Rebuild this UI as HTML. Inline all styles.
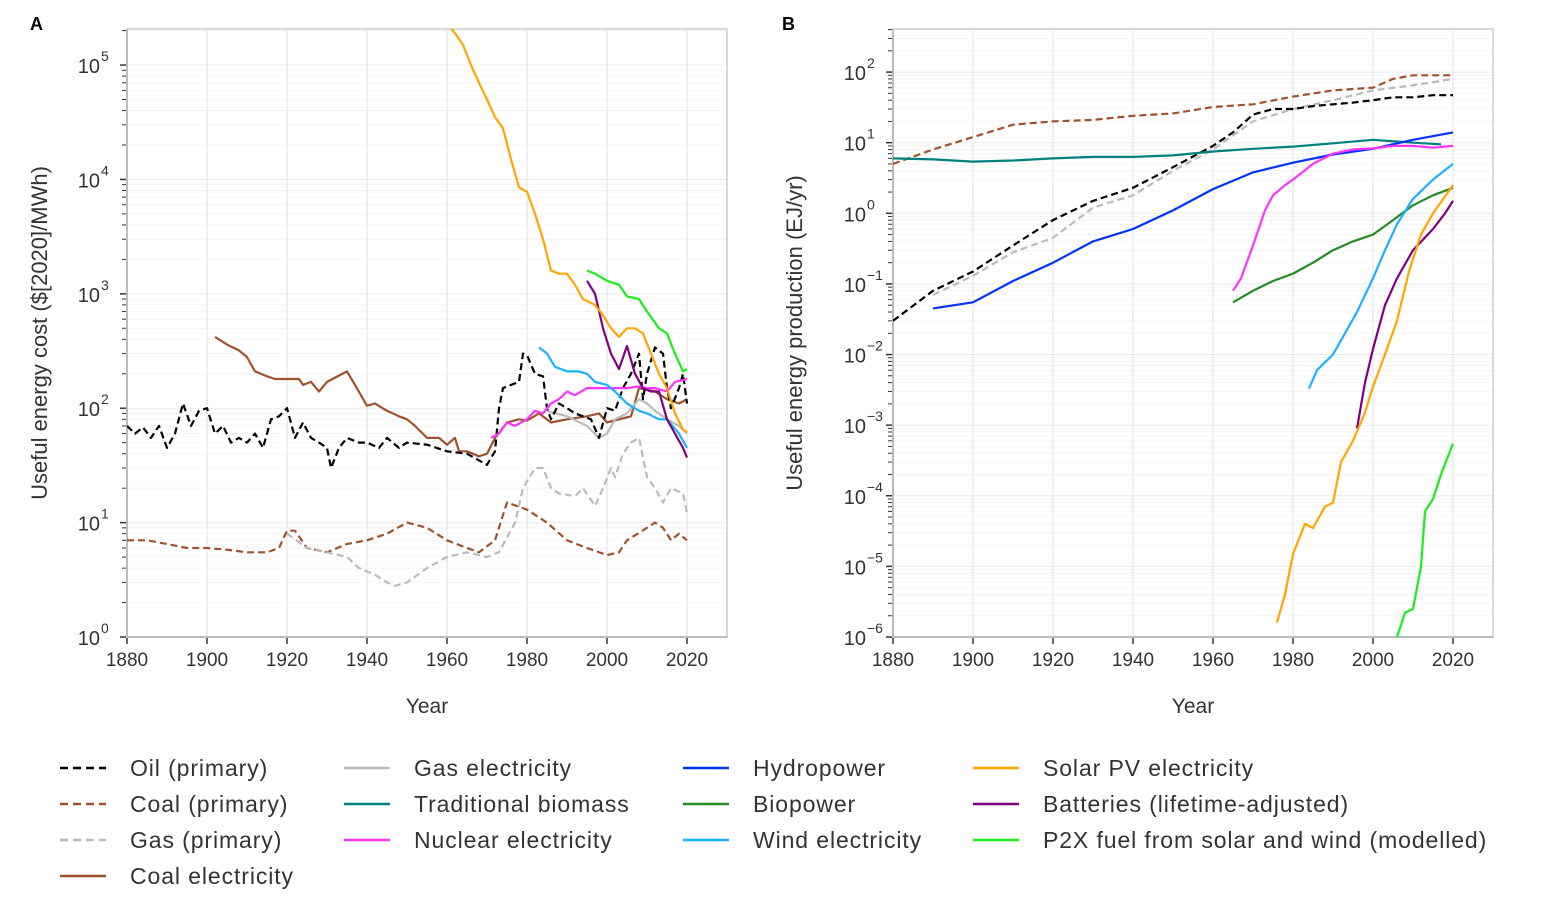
<!DOCTYPE html>
<html><head><meta charset="utf-8"><style>
body{margin:0;background:#fff;}
svg{display:block;font-family:"Liberation Sans",Arial,sans-serif;}
</style></head><body>
<svg id="chart" width="1542" height="904" viewBox="0 0 1542 904"></svg>
<script>
// ---- Panel A data: useful energy cost ($[2020]/MWh) ----
const aOilYears=[1880,1882,1884,1886,1888,1890,1892,1894,1896,1898,1900,1902,1904,1906,1908,1910,1912,1914,1916,1918,1920,1922,1924,1926,1928,1930,1931,1933,1935,1938,1940,1943,1945,1948,1950,1955,1960,1965,1968,1970,1972,1973,1974,1976,1978,1979,1980,1982,1984,1985,1986,1988,1990,1992,1994,1996,1998,2000,2002,2004,2006,2008,2009,2010,2012,2014,2015,2016,2018,2019,2020];
const aOilVals=[70,60,68,55,70,45,60,110,70,95,100,60,70,50,55,50,60,45,80,85,100,55,75,55,50,45,30,45,55,50,50,45,55,45,50,48,42,40,35,32,42,100,150,160,170,300,290,200,190,100,80,110,100,90,85,80,55,100,95,150,200,300,120,200,340,300,150,100,150,200,110];
const aCoalYears=[1880,1885,1890,1895,1900,1905,1910,1915,1918,1920,1922,1925,1930,1935,1940,1945,1950,1955,1960,1965,1968,1972,1975,1980,1985,1990,1995,2000,2003,2005,2010,2012,2014,2016,2018,2020];
const aCoalVals=[7,7,6.5,6,6,5.8,5.5,5.5,6,8.5,8.5,6,5.5,6.5,7,8,10,9,7,6,5.5,7,15,13,10,7,6,5.2,5.5,7,9,10,9,7,8,7];
const aGasYears=[1920,1925,1930,1935,1938,1942,1945,1947,1950,1955,1960,1965,1970,1973,1977,1979,1982,1984,1986,1988,1992,1994,1997,1999,2001,2002,2004,2006,2008,2010,2012,2014,2016,2019,2020];
const aGasVals=[8,6,5.5,5,4,3.5,3,2.8,3,4,5,5.5,5,5.5,10,20,30,30,20,18,17,20,14,20,30,25,40,50,55,25,20,15,20,18,12];
const aCoalElYears=[1902,1905,1908,1910,1912,1915,1917,1920,1923,1924,1926,1928,1930,1935,1937,1940,1942,1945,1948,1950,1952,1955,1958,1960,1962,1963,1965,1968,1970,1972,1975,1978,1980,1983,1986,1990,1995,1998,2000,2003,2006,2008,2012,2015,2018,2020];
const aCoalElVals=[420,360,320,280,210,190,180,180,180,160,170,140,170,210,160,105,110,95,85,80,70,55,55,48,55,42,42,38,40,55,75,80,78,90,75,80,85,90,75,80,85,150,140,120,110,120];
const aGasElYears=[1985,1990,1995,1998,2000,2002,2005,2008,2010,2012,2015,2018,2020];
const aGasElVals=[95,85,70,55,60,80,90,120,110,95,80,70,60];
const aNucYears=[1971,1973,1975,1977,1980,1982,1984,1986,1988,1990,1992,1995,2000,2005,2008,2010,2012,2015,2017,2020];
const aNucVals=[55,60,75,70,80,95,90,110,120,140,130,150,150,150,155,150,150,140,170,180];
const aWindYears=[1983,1985,1987,1990,1993,1995,1997,2000,2002,2005,2008,2010,2013,2015,2018,2020];
const aWindVals=[340,300,230,210,210,200,170,160,140,110,95,90,80,80,60,45];
const aSolarYears=[1961,1962,1964,1966,1968,1970,1972,1974,1976,1978,1980,1982,1984,1986,1988,1990,1992,1994,1997,1999,2001,2003,2005,2007,2009,2011,2013,2015,2017,2019,2020];
const aSolarVals=[210000,190000,150000,100000,70000,50000,35000,28000,15000,8500,7800,5000,3000,1600,1500,1500,1200,900,800,650,500,420,500,500,450,300,200,150,90,65,62];
const aBatYears=[1995,1997,1999,2001,2003,2005,2007,2009,2011,2013,2015,2017,2019,2020];
const aBatVals=[1300,1000,500,300,220,350,200,150,140,140,80,60,45,37];
const aP2xYears=[1995,1997,2000,2003,2005,2008,2010,2013,2015,2017,2019,2020];
const aP2xVals=[1600,1500,1300,1200,950,900,700,500,450,300,210,220];
// ---- Panel B data: useful energy production (EJ/yr) ----
const bOilYears=[1880,1890,1900,1910,1920,1930,1940,1950,1960,1965,1970,1975,1980,1985,1990,1995,2000,2005,2010,2015,2020];
const bOilVals=[0.03,0.08,0.15,0.35,0.8,1.5,2.3,4.5,9,14,25,30,30,33,35,37,40,44,44,47,47];
const bGasYears=[1890,1900,1910,1920,1930,1940,1950,1960,1970,1980,1990,2000,2010,2020];
const bGasVals=[0.07,0.13,0.28,0.45,1.2,1.8,4,8,20,30,40,55,65,80];
const bCoalYears=[1880,1890,1900,1910,1920,1930,1940,1950,1960,1970,1980,1990,2000,2005,2010,2015,2020];
const bCoalVals=[5,8,12,18,20,21,24,26,32,35,45,55,60,80,90,90,90];
const bBioYears=[1880,1890,1900,1910,1920,1930,1940,1950,1960,1970,1980,1990,2000,2010,2017];
const bBioVals=[6,5.8,5.4,5.6,6,6.3,6.3,6.6,7.5,8.2,8.8,9.8,11,10,9.5];
const bHydroYears=[1890,1900,1910,1920,1930,1940,1950,1960,1970,1980,1990,2000,2010,2020];
const bHydroVals=[0.045,0.055,0.11,0.2,0.4,0.6,1.1,2.2,3.8,5.2,6.8,8.2,11,14];
const bNucYears=[1965,1967,1970,1973,1975,1978,1980,1985,1990,1995,2000,2005,2010,2015,2020];
const bNucVals=[0.08,0.12,0.35,1.1,1.8,2.5,3,5,7,8,8.3,9,9,8.5,9];
const bBiopYears=[1965,1970,1975,1980,1985,1990,1995,2000,2005,2010,2015,2020];
const bBiopVals=[0.055,0.08,0.11,0.14,0.2,0.3,0.4,0.5,0.8,1.3,1.8,2.3];
const bWindYears=[1984,1986,1990,1993,1996,2000,2003,2006,2010,2015,2020];
const bWindVals=[0.0033,0.006,0.01,0.02,0.04,0.12,0.3,0.7,1.6,3,5];
const bBatYears=[1996,1998,2000,2003,2006,2010,2015,2018,2020];
const bBatVals=[0.0009,0.004,0.012,0.05,0.12,0.3,0.6,1,1.5];
const bSolarYears=[1976,1978,1980,1983,1985,1988,1990,1992,1995,1998,2000,2003,2006,2009,2012,2015,2020];
const bSolarVals=[1.6e-6,4e-6,1.5e-5,4e-5,3.5e-5,7e-5,8e-5,3e-4,6e-4,1.5e-3,3.5e-3,1e-2,3e-2,0.15,0.5,1,2.5];
const bP2xYears=[2006,2008,2010,2012,2013,2015,2017,2020];
const bP2xVals=[1e-6,2.2e-6,2.5e-6,1e-5,6e-5,9e-5,2e-4,5.5e-4];
const xTicks=[1880,1900,1920,1940,1960,1980,2000,2020];

const NS="http://www.w3.org/2000/svg";
const svg=document.getElementById('chart');
function el(tag,attrs,parent){const e=document.createElementNS(NS,tag);for(const k in attrs)e.setAttribute(k,attrs[k]);(parent||svg).appendChild(e);return e;}

function panel(cfg){
  const {x0,x1,y0,y1,lmin,lmax,decMin,decMax,name}=cfg;
  const g=el('g',{});
  
  
  const sx=yr=>x0+(yr-1880)/(2030-1880)*(x1-x0);
  const sy=v=>y1-(Math.log10(v)-lmin)/(lmax-lmin)*(y1-y0);
  for(let d=decMin;d<=decMax;d++){for(let m=2;m<=9;m++){const v=m*Math.pow(10,d);const y=sy(v);if(y<y0||y>y1)continue;
    el('line',{x1:x0,x2:x1,y1:y,y2:y,stroke:'#f4f4f4','stroke-width':1},g);
    el('line',{x1:x0-5,x2:x0,y1:y,y2:y,stroke:'#333','stroke-width':1},g);}}
  for(let d=decMin;d<=decMax;d++){const y=sy(Math.pow(10,d));if(y<y0-1||y>y1+1)continue;
    el('line',{x1:x0,x2:x1,y1:y,y2:y,stroke:'#ebebeb','stroke-width':1},g);
    el('line',{x1:x0-7,x2:x0,y1:y,y2:y,stroke:'#333','stroke-width':1.5},g);
    const t=el('text',{x:x0-27,y:y+8,'text-anchor':'end','font-size':20,fill:'#333'},g);
    
    
    t.textContent='10';
    const s=el('text',{x:x0-26,y:y-4,'text-anchor':'start','font-size':14,fill:'#333'},g);
    
    
    s.textContent=String(d).replace('-','\u2212');
  }
  xTicks.forEach(yr=>{const x=sx(yr);
    el('line',{x1:x,x2:x,y1:y0,y2:y1,stroke:'#ebebeb','stroke-width':1.5},g);
    el('line',{x1:x,x2:x,y1:y1,y2:y1+7,stroke:'#333','stroke-width':1.5},g);
    const t=el('text',{x:x,y:y1+29,'text-anchor':'middle','font-size':19,fill:'#333'},g);
    
    
    t.textContent=yr;});
  el('rect',{x:x0,y:y0,width:x1-x0,height:y1-y0,fill:'none',stroke:'#d9d9d9','stroke-width':2},g);
  el('line',{x1:x0,x2:x0,y1:y0,y2:y1,stroke:'#bbb','stroke-width':2},g);
  el('line',{x1:x0,x2:x1,y1:y1,y2:y1,stroke:'#bbb','stroke-width':2},g);
  const cp=el('clipPath',{id:'clip'+name},g);el('rect',{x:x0,y:y0,width:x1-x0,height:y1-y0},cp);
  const lines=el('g',{'clip-path':'url(#clip'+name+')'},g);
  cfg.series.forEach(s=>{
    const d=s.years.map((yr,i)=>(i?'L':'M')+sx(yr).toFixed(1)+','+sy(s.vals[i]).toFixed(1)).join('');
    const p=el('path',{d:d,fill:'none',stroke:s.c,'stroke-width':2.2,'stroke-linejoin':'round','stroke-dasharray':s.dash?'7,4':'none'},lines);
    
    
  });
  const xl=el('text',{x:(x0+x1)/2,y:y1+76,'text-anchor':'middle','font-size':21,fill:'#333'},g);
  
  
  xl.textContent='Year';
  const yl=el('text',{x:0,y:0,transform:'translate('+cfg.ylx+','+(y0+y1)/2+') rotate(-90)','text-anchor':'middle','font-size':22,fill:'#333'},g);
  
  
  yl.textContent=cfg.ylabel;
  const pl=el('text',{x:cfg.lx,y:30,'font-size':18,'font-weight':'bold',fill:'#000'},g);
  
  
  pl.textContent=cfg.letter;
}
const C={oil:'#000',coal:'#a0522d',gas:'#bbbbbb',bio:'#008080',nuc:'#ff33ff',hyd:'#0033ff',biop:'#228b22',wind:'#1ab2ff',sol:'#ffa500',bat:'#800080',p2x:'#19f019'};
panel({name:'panel-a',letter:'A',lx:30,x0:127,x1:727,y0:29,y1:637,lmin:0,lmax:5.315,decMin:0,decMax:5,ylx:47,
  ylabel:'Useful energy cost ($[2020]/MWh)',
  series:[
  {n:'coal-primary-line',years:aCoalYears,vals:aCoalVals,c:C.coal,dash:1},
  {n:'gas-primary-line',years:aGasYears,vals:aGasVals,c:C.gas,dash:1},
  {n:'coal-electricity-line',years:aCoalElYears,vals:aCoalElVals,c:C.coal},
  {n:'gas-electricity-line',years:aGasElYears,vals:aGasElVals,c:C.gas},
  {n:'oil-primary-line',years:aOilYears,vals:aOilVals,c:C.oil,dash:1},
  {n:'nuclear-line',years:aNucYears,vals:aNucVals,c:C.nuc},
  {n:'wind-line',years:aWindYears,vals:aWindVals,c:C.wind},
  {n:'p2x-line',years:aP2xYears,vals:aP2xVals,c:C.p2x},
  {n:'batteries-line',years:aBatYears,vals:aBatVals,c:C.bat},
  {n:'solar-line',years:aSolarYears,vals:aSolarVals,c:C.sol}]});
panel({name:'panel-b',letter:'B',lx:782,x0:893,x1:1493,y0:29,y1:637,lmin:-6,lmax:2.61,decMin:-6,decMax:2,ylx:802,
  ylabel:'Useful energy production (EJ/yr)',
  series:[
  {n:'coal-primary-line',years:bCoalYears,vals:bCoalVals,c:C.coal,dash:1},
  {n:'gas-primary-line',years:bGasYears,vals:bGasVals,c:C.gas,dash:1},
  {n:'oil-primary-line',years:bOilYears,vals:bOilVals,c:C.oil,dash:1},
  {n:'biomass-line',years:bBioYears,vals:bBioVals,c:C.bio},
  {n:'hydro-line',years:bHydroYears,vals:bHydroVals,c:C.hyd},
  {n:'nuclear-line',years:bNucYears,vals:bNucVals,c:C.nuc},
  {n:'biopower-line',years:bBiopYears,vals:bBiopVals,c:C.biop},
  {n:'wind-line',years:bWindYears,vals:bWindVals,c:C.wind},
  {n:'batteries-line',years:bBatYears,vals:bBatVals,c:C.bat},
  {n:'solar-line',years:bSolarYears,vals:bSolarVals,c:C.sol},
  {n:'p2x-line',years:bP2xYears,vals:bP2xVals,c:C.p2x}]});
const legend=[
 [60,768,'Oil (primary)',C.oil,1],[60,804,'Coal (primary)',C.coal,1],[60,840,'Gas (primary)',C.gas,1],[60,876,'Coal electricity',C.coal,0],
 [344,768,'Gas electricity',C.gas,0],[344,804,'Traditional biomass',C.bio,0],[344,840,'Nuclear electricity',C.nuc,0],
 [683,768,'Hydropower',C.hyd,0],[683,804,'Biopower',C.biop,0],[683,840,'Wind electricity',C.wind,0],
 [973,768,'Solar PV electricity',C.sol,0],[973,804,'Batteries (lifetime-adjusted)',C.bat,0],[973,840,'P2X fuel from solar and wind (modelled)',C.p2x,0]];
const lg=el('g',{});


legend.forEach(l=>{
  const e=el('g',{},lg);
  
  
  el('line',{x1:l[0],x2:l[0]+46,y1:l[1],y2:l[1],stroke:l[3],'stroke-width':2.5,'stroke-dasharray':l[4]?'8,5':'none'},e);
  const t=el('text',{x:l[0]+70,y:l[1]+8,'font-size':23,'letter-spacing':'0.9',fill:'#333'},e);t.textContent=l[2];
});
</script>
</body></html>
